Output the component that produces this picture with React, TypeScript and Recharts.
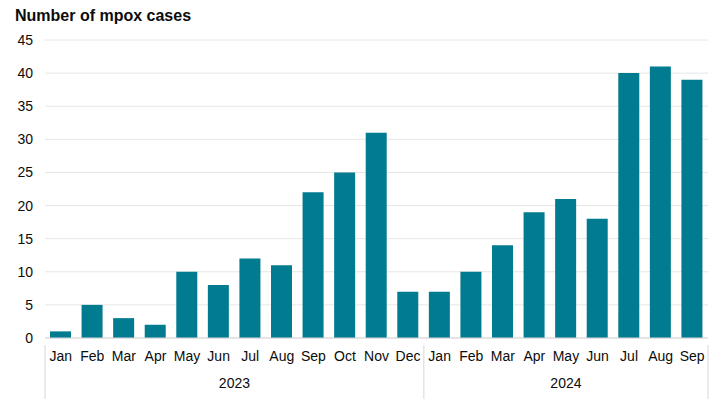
import { BarChart, Bar, XAxis, YAxis, CartesianGrid } from "recharts";

document.body.style.margin = "0";

const months2023 = ["Jan", "Feb", "Mar", "Apr", "May", "Jun", "Jul", "Aug", "Sep", "Oct", "Nov", "Dec"];
const cases2023 = [1, 5, 3, 2, 10, 8, 12, 11, 22, 25, 31, 7];
const months2024 = ["Jan", "Feb", "Mar", "Apr", "May", "Jun", "Jul", "Aug", "Sep"];
const cases2024 = [7, 10, 14, 19, 21, 18, 40, 41, 39];
const yTicks = [0, 5, 10, 15, 20, 25, 30, 35, 40, 45];

const groups = [
  { year: "2023", months: months2023, values: cases2023 },
  { year: "2024", months: months2024, values: cases2024 },
];

const data = groups.flatMap((g) =>
  g.months.map((m, i) => ({ month: m, year: g.year, cases: g.values[i], count: g.months.length, pos: i }))
);

const W = 724;
const H = 408;
const LEFT = 45;
const RIGHT = 16;
const BAND = (W - LEFT - RIGHT) / data.length;
const FONT = "Arial, 'Liberation Sans', sans-serif";

const MonthTick = (props: any) => {
  const { x, y, index } = props;
  const d = data[index];
  if (!d) return null;
  const lineColor = "#d6d6d6";
  const els = [];
  els.push(
    <text key="m" x={x} y={y + 15} textAnchor="middle" fontSize={14} fill="#0b0c0c" fontFamily={FONT}>
      {d.month}
    </text>
  );
  if (d.pos === 0) {
    els.push(<line key="l" x1={x - BAND / 2} x2={x - BAND / 2} y1={y - 1} y2={y + 53} stroke={lineColor} />);
  }
  if (index === data.length - 1) {
    els.push(<line key="r" x1={x + BAND / 2} x2={x + BAND / 2} y1={y - 1} y2={y + 53} stroke={lineColor} />);
  }
  const mid = (d.count - 1) / 2;
  if (d.pos === Math.floor(mid)) {
    const cx = x + (mid - d.pos) * BAND;
    els.push(
      <text key="y" x={cx} y={y + 42} textAnchor="middle" fontSize={14} fill="#0b0c0c" fontFamily={FONT}>
        {d.year}
      </text>
    );
  }
  return <g>{els}</g>;
};

export default function App() {
  return (
    <div style={{ position: "relative", width: W, height: H, background: "#fff" }}>
      <div
        style={{
          position: "absolute",
          left: 15,
          top: 7,
          fontFamily: FONT,
          fontWeight: "bold",
          fontSize: 16,
          color: "#0b0c0c",
        }}
      >
        Number of mpox cases
      </div>
      <BarChart
        width={W}
        height={H}
        data={data}
        margin={{ top: 40, right: RIGHT, bottom: 10, left: 0 }}
      >
        <CartesianGrid vertical={false} stroke="#e6e6e6" />
        <XAxis
          dataKey="month"
          interval={0}
          height={60}
          tickLine={false}
          axisLine={{ stroke: "#d6d6d6" }}
          tick={<MonthTick />}
        />
        <YAxis
          width={LEFT}
          domain={[0, 45]}
          ticks={yTicks}
          axisLine={false}
          tickLine={false}
          tickSize={0}
          tickMargin={12}
          tick={{ fontSize: 14, fill: "#0b0c0c", fontFamily: FONT }}
        />
        <Bar dataKey="cases" fill="#007b8f" barSize={21} isAnimationActive={false} />
      </BarChart>
    </div>
  );
}
